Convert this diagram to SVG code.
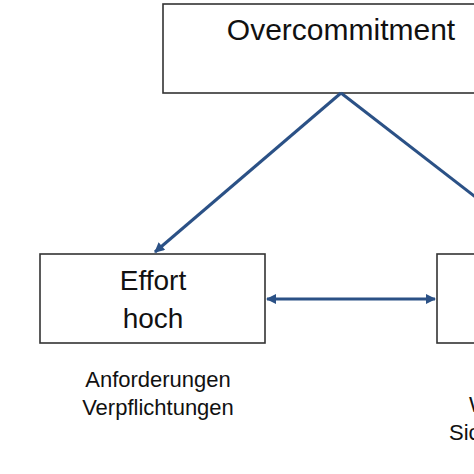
<svg xmlns="http://www.w3.org/2000/svg" width="474" height="474" viewBox="0 0 474 474">
<style>
.box{fill:#ffffff;stroke:#333333;stroke-width:1.6}
.t{font-family:"Liberation Sans",Arial,sans-serif;fill:#111111;text-anchor:middle}
.big{font-size:28px}
.sm{font-size:22px}
.conn{stroke:#2B5186;stroke-width:3;fill:none}
</style>
<defs>
<marker id="ah" viewBox="0 0 10 10" refX="9" refY="5" markerWidth="11" markerHeight="10" markerUnits="userSpaceOnUse" orient="auto-start-reverse">
<path d="M0,0 L10,5 L0,10 z" fill="#2B5186"/>
</marker>
</defs>
<rect width="474" height="474" fill="#ffffff"/>
<g id="overcommitment">
<rect class="box" x="163" y="4" width="340" height="89"/>
<text class="t" x="341" y="40" style="font-size:30px">Overcommitment</text>
</g>
<g id="effort">
<rect class="box" x="40" y="254" width="225" height="89"/>
<text class="t big" x="153" y="290">Effort</text>
<text class="t big" x="153" y="328">hoch</text>
<text class="t sm" x="158" y="387">Anforderungen</text>
<text class="t sm" x="158" y="415">Verpflichtungen</text>
</g>
<g id="reward">
<rect class="box" x="437" y="254" width="225" height="89"/>
<text class="t sm" x="469" y="412" style="text-anchor:start">Wertschätzung</text>
<text class="t sm" x="449" y="440" style="text-anchor:start">Sicherheit</text>
</g>
<g id="connectors">
<line class="conn" x1="341" y1="93" x2="155" y2="252" marker-end="url(#ah)"/>
<line class="conn" x1="341" y1="93" x2="549" y2="254" marker-end="url(#ah)"/>
<line class="conn" x1="267" y1="299" x2="435" y2="299" marker-start="url(#ah)" marker-end="url(#ah)"/>
</g>
</svg>
